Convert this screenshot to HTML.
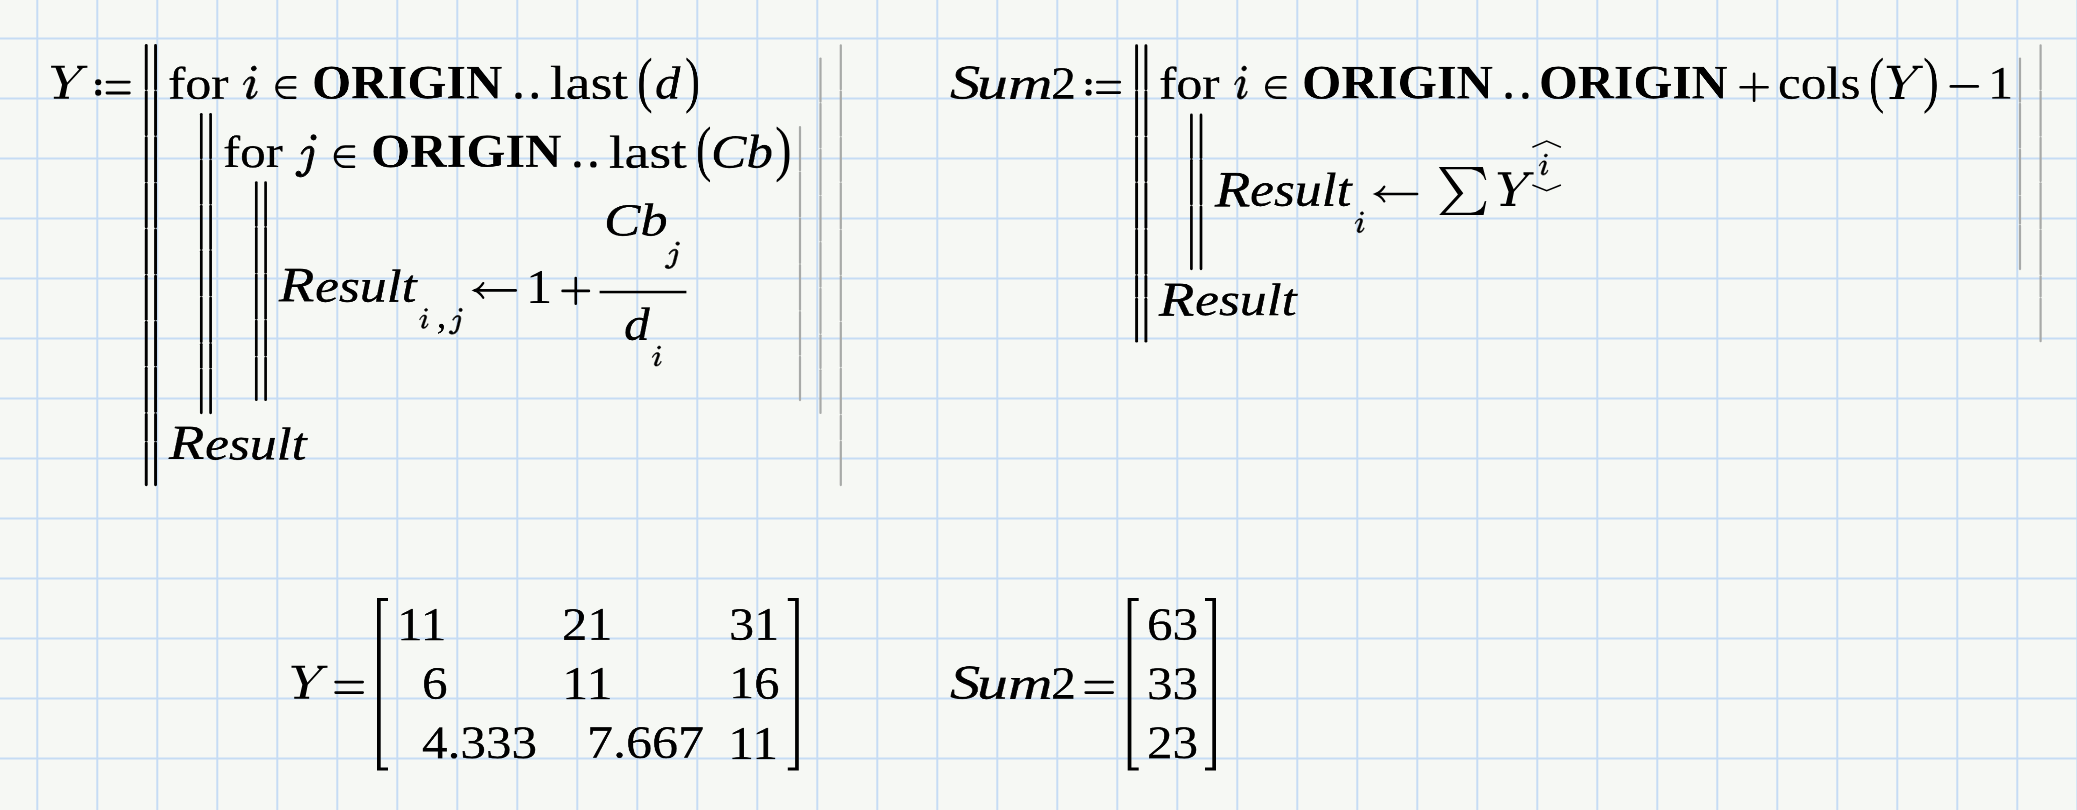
<!DOCTYPE html>
<html><head><meta charset="utf-8"><style>
html,body{margin:0;padding:0;}
body{width:2077px;height:810px;overflow:hidden;background:#f6f8f4;position:relative;}
svg{position:absolute;left:0;top:0;}
span{position:absolute;white-space:pre;transform-origin:0 0;color:#000;will-change:transform;font-family:"Liberation Serif",serif;font-size:100px;line-height:100px;}
.it{font-style:italic;font-weight:400;-webkit-text-stroke:0.8px #000;}
.bd{font-style:normal;font-weight:700;}
.rm{font-style:normal;font-weight:400;-webkit-text-stroke:0.6px #000;}
.pm{font-style:normal;font-weight:400;}
</style></head><body>
<svg width="2077" height="810" viewBox="0 0 2077 810">
<rect x="36.3" y="0" width="2" height="810" fill="#c6dcf4"/>
<rect x="96.3" y="0" width="2" height="810" fill="#c6dcf4"/>
<rect x="156.3" y="0" width="2" height="810" fill="#c6dcf4"/>
<rect x="216.3" y="0" width="2" height="810" fill="#c6dcf4"/>
<rect x="276.3" y="0" width="2" height="810" fill="#c6dcf4"/>
<rect x="336.3" y="0" width="2" height="810" fill="#c6dcf4"/>
<rect x="396.3" y="0" width="2" height="810" fill="#c6dcf4"/>
<rect x="456.3" y="0" width="2" height="810" fill="#c6dcf4"/>
<rect x="516.3" y="0" width="2" height="810" fill="#c6dcf4"/>
<rect x="576.3" y="0" width="2" height="810" fill="#c6dcf4"/>
<rect x="636.3" y="0" width="2" height="810" fill="#c6dcf4"/>
<rect x="696.3" y="0" width="2" height="810" fill="#c6dcf4"/>
<rect x="756.3" y="0" width="2" height="810" fill="#c6dcf4"/>
<rect x="816.3" y="0" width="2" height="810" fill="#c6dcf4"/>
<rect x="876.3" y="0" width="2" height="810" fill="#c6dcf4"/>
<rect x="936.3" y="0" width="2" height="810" fill="#c6dcf4"/>
<rect x="996.3" y="0" width="2" height="810" fill="#c6dcf4"/>
<rect x="1056.3" y="0" width="2" height="810" fill="#c6dcf4"/>
<rect x="1116.3" y="0" width="2" height="810" fill="#c6dcf4"/>
<rect x="1176.3" y="0" width="2" height="810" fill="#c6dcf4"/>
<rect x="1236.3" y="0" width="2" height="810" fill="#c6dcf4"/>
<rect x="1296.3" y="0" width="2" height="810" fill="#c6dcf4"/>
<rect x="1356.3" y="0" width="2" height="810" fill="#c6dcf4"/>
<rect x="1416.3" y="0" width="2" height="810" fill="#c6dcf4"/>
<rect x="1476.3" y="0" width="2" height="810" fill="#c6dcf4"/>
<rect x="1536.3" y="0" width="2" height="810" fill="#c6dcf4"/>
<rect x="1596.3" y="0" width="2" height="810" fill="#c6dcf4"/>
<rect x="1656.3" y="0" width="2" height="810" fill="#c6dcf4"/>
<rect x="1716.3" y="0" width="2" height="810" fill="#c6dcf4"/>
<rect x="1776.3" y="0" width="2" height="810" fill="#c6dcf4"/>
<rect x="1836.3" y="0" width="2" height="810" fill="#c6dcf4"/>
<rect x="1896.3" y="0" width="2" height="810" fill="#c6dcf4"/>
<rect x="1956.3" y="0" width="2" height="810" fill="#c6dcf4"/>
<rect x="2016.3" y="0" width="2" height="810" fill="#c6dcf4"/>
<rect x="2076.3" y="0" width="2" height="810" fill="#c6dcf4"/>
<rect x="0" y="37.5" width="2077" height="2" fill="#c6dcf4"/>
<rect x="0" y="97.5" width="2077" height="2" fill="#c6dcf4"/>
<rect x="0" y="157.5" width="2077" height="2" fill="#c6dcf4"/>
<rect x="0" y="217.5" width="2077" height="2" fill="#c6dcf4"/>
<rect x="0" y="277.5" width="2077" height="2" fill="#c6dcf4"/>
<rect x="0" y="337.5" width="2077" height="2" fill="#c6dcf4"/>
<rect x="0" y="397.5" width="2077" height="2" fill="#c6dcf4"/>
<rect x="0" y="457.5" width="2077" height="2" fill="#c6dcf4"/>
<rect x="0" y="517.5" width="2077" height="2" fill="#c6dcf4"/>
<rect x="0" y="577.5" width="2077" height="2" fill="#c6dcf4"/>
<rect x="0" y="637.5" width="2077" height="2" fill="#c6dcf4"/>
<rect x="0" y="697.5" width="2077" height="2" fill="#c6dcf4"/>
<rect x="0" y="757.5" width="2077" height="2" fill="#c6dcf4"/>
<line x1="146.25" y1="45.45" x2="146.25" y2="88.95" stroke="#000" stroke-width="2.9" stroke-linecap="round"/>
<line x1="146.25" y1="91.85" x2="146.25" y2="134.85" stroke="#000" stroke-width="2.9" stroke-linecap="round"/>
<line x1="146.25" y1="137.75" x2="146.25" y2="181.15" stroke="#000" stroke-width="2.9" stroke-linecap="round"/>
<line x1="146.25" y1="184.05" x2="146.25" y2="227.05" stroke="#000" stroke-width="2.9" stroke-linecap="round"/>
<line x1="146.25" y1="229.95" x2="146.25" y2="273.35" stroke="#000" stroke-width="2.9" stroke-linecap="round"/>
<line x1="146.25" y1="276.25" x2="146.25" y2="319.25" stroke="#000" stroke-width="2.9" stroke-linecap="round"/>
<line x1="146.25" y1="322.15" x2="146.25" y2="365.25" stroke="#000" stroke-width="2.9" stroke-linecap="round"/>
<line x1="146.25" y1="368.15" x2="146.25" y2="411.55" stroke="#000" stroke-width="2.9" stroke-linecap="round"/>
<line x1="146.25" y1="414.45" x2="146.25" y2="440.15" stroke="#000" stroke-width="2.9" stroke-linecap="round"/>
<line x1="146.25" y1="443.05" x2="146.25" y2="484.85" stroke="#000" stroke-width="2.9" stroke-linecap="round"/>
<line x1="155.55" y1="45.45" x2="155.55" y2="88.95" stroke="#000" stroke-width="2.9" stroke-linecap="round"/>
<line x1="155.55" y1="91.85" x2="155.55" y2="134.85" stroke="#000" stroke-width="2.9" stroke-linecap="round"/>
<line x1="155.55" y1="137.75" x2="155.55" y2="181.15" stroke="#000" stroke-width="2.9" stroke-linecap="round"/>
<line x1="155.55" y1="184.05" x2="155.55" y2="227.05" stroke="#000" stroke-width="2.9" stroke-linecap="round"/>
<line x1="155.55" y1="229.95" x2="155.55" y2="273.35" stroke="#000" stroke-width="2.9" stroke-linecap="round"/>
<line x1="155.55" y1="276.25" x2="155.55" y2="319.25" stroke="#000" stroke-width="2.9" stroke-linecap="round"/>
<line x1="155.55" y1="322.15" x2="155.55" y2="365.25" stroke="#000" stroke-width="2.9" stroke-linecap="round"/>
<line x1="155.55" y1="368.15" x2="155.55" y2="411.55" stroke="#000" stroke-width="2.9" stroke-linecap="round"/>
<line x1="155.55" y1="414.45" x2="155.55" y2="440.15" stroke="#000" stroke-width="2.9" stroke-linecap="round"/>
<line x1="155.55" y1="443.05" x2="155.55" y2="484.85" stroke="#000" stroke-width="2.9" stroke-linecap="round"/>
<line x1="201.3" y1="114.25" x2="201.3" y2="157.95" stroke="#000" stroke-width="2.7" stroke-linecap="round"/>
<line x1="201.3" y1="160.65" x2="201.3" y2="203.45" stroke="#000" stroke-width="2.7" stroke-linecap="round"/>
<line x1="201.3" y1="206.15" x2="201.3" y2="248.65" stroke="#000" stroke-width="2.7" stroke-linecap="round"/>
<line x1="201.3" y1="251.35" x2="201.3" y2="295.15" stroke="#000" stroke-width="2.7" stroke-linecap="round"/>
<line x1="201.3" y1="297.85" x2="201.3" y2="341.65" stroke="#000" stroke-width="2.7" stroke-linecap="round"/>
<line x1="201.3" y1="344.35" x2="201.3" y2="367.25" stroke="#000" stroke-width="2.7" stroke-linecap="round"/>
<line x1="201.3" y1="369.95" x2="201.3" y2="412.85" stroke="#000" stroke-width="2.7" stroke-linecap="round"/>
<line x1="210.6" y1="114.25" x2="210.6" y2="157.95" stroke="#000" stroke-width="2.7" stroke-linecap="round"/>
<line x1="210.6" y1="160.65" x2="210.6" y2="203.45" stroke="#000" stroke-width="2.7" stroke-linecap="round"/>
<line x1="210.6" y1="206.15" x2="210.6" y2="248.65" stroke="#000" stroke-width="2.7" stroke-linecap="round"/>
<line x1="210.6" y1="251.35" x2="210.6" y2="295.15" stroke="#000" stroke-width="2.7" stroke-linecap="round"/>
<line x1="210.6" y1="297.85" x2="210.6" y2="341.65" stroke="#000" stroke-width="2.7" stroke-linecap="round"/>
<line x1="210.6" y1="344.35" x2="210.6" y2="367.25" stroke="#000" stroke-width="2.7" stroke-linecap="round"/>
<line x1="210.6" y1="369.95" x2="210.6" y2="412.85" stroke="#000" stroke-width="2.7" stroke-linecap="round"/>
<line x1="256.3" y1="182.55" x2="256.3" y2="225.55" stroke="#000" stroke-width="2.7" stroke-linecap="round"/>
<line x1="256.3" y1="228.25" x2="256.3" y2="272.15" stroke="#000" stroke-width="2.7" stroke-linecap="round"/>
<line x1="256.3" y1="274.85" x2="256.3" y2="318.25" stroke="#000" stroke-width="2.7" stroke-linecap="round"/>
<line x1="256.3" y1="320.95" x2="256.3" y2="355.35" stroke="#000" stroke-width="2.7" stroke-linecap="round"/>
<line x1="256.3" y1="358.05" x2="256.3" y2="399.65" stroke="#000" stroke-width="2.7" stroke-linecap="round"/>
<line x1="265.6" y1="182.55" x2="265.6" y2="225.55" stroke="#000" stroke-width="2.7" stroke-linecap="round"/>
<line x1="265.6" y1="228.25" x2="265.6" y2="272.15" stroke="#000" stroke-width="2.7" stroke-linecap="round"/>
<line x1="265.6" y1="274.85" x2="265.6" y2="318.25" stroke="#000" stroke-width="2.7" stroke-linecap="round"/>
<line x1="265.6" y1="320.95" x2="265.6" y2="355.35" stroke="#000" stroke-width="2.7" stroke-linecap="round"/>
<line x1="265.6" y1="358.05" x2="265.6" y2="399.65" stroke="#000" stroke-width="2.7" stroke-linecap="round"/>
<line x1="1136.6" y1="45.75" x2="1136.6" y2="88.95" stroke="#000" stroke-width="2.9" stroke-linecap="round"/>
<line x1="1136.6" y1="91.85" x2="1136.6" y2="134.95" stroke="#000" stroke-width="2.9" stroke-linecap="round"/>
<line x1="1136.6" y1="137.85" x2="1136.6" y2="180.75" stroke="#000" stroke-width="2.9" stroke-linecap="round"/>
<line x1="1136.6" y1="183.65" x2="1136.6" y2="227.55" stroke="#000" stroke-width="2.9" stroke-linecap="round"/>
<line x1="1136.6" y1="230.45" x2="1136.6" y2="273.55" stroke="#000" stroke-width="2.9" stroke-linecap="round"/>
<line x1="1136.6" y1="276.45" x2="1136.6" y2="296.25" stroke="#000" stroke-width="2.9" stroke-linecap="round"/>
<line x1="1136.6" y1="299.15" x2="1136.6" y2="341.15" stroke="#000" stroke-width="2.9" stroke-linecap="round"/>
<line x1="1145.9" y1="45.75" x2="1145.9" y2="88.95" stroke="#000" stroke-width="2.9" stroke-linecap="round"/>
<line x1="1145.9" y1="91.85" x2="1145.9" y2="134.95" stroke="#000" stroke-width="2.9" stroke-linecap="round"/>
<line x1="1145.9" y1="137.85" x2="1145.9" y2="180.75" stroke="#000" stroke-width="2.9" stroke-linecap="round"/>
<line x1="1145.9" y1="183.65" x2="1145.9" y2="227.55" stroke="#000" stroke-width="2.9" stroke-linecap="round"/>
<line x1="1145.9" y1="230.45" x2="1145.9" y2="273.55" stroke="#000" stroke-width="2.9" stroke-linecap="round"/>
<line x1="1145.9" y1="276.45" x2="1145.9" y2="296.25" stroke="#000" stroke-width="2.9" stroke-linecap="round"/>
<line x1="1145.9" y1="299.15" x2="1145.9" y2="341.15" stroke="#000" stroke-width="2.9" stroke-linecap="round"/>
<line x1="1191.4" y1="114.95" x2="1191.4" y2="157.65" stroke="#000" stroke-width="2.7" stroke-linecap="round"/>
<line x1="1191.4" y1="160.35" x2="1191.4" y2="204.05" stroke="#000" stroke-width="2.7" stroke-linecap="round"/>
<line x1="1191.4" y1="206.75" x2="1191.4" y2="268.85" stroke="#000" stroke-width="2.7" stroke-linecap="round"/>
<line x1="1201.0" y1="114.95" x2="1201.0" y2="157.65" stroke="#000" stroke-width="2.7" stroke-linecap="round"/>
<line x1="1201.0" y1="160.35" x2="1201.0" y2="204.05" stroke="#000" stroke-width="2.7" stroke-linecap="round"/>
<line x1="1201.0" y1="206.75" x2="1201.0" y2="268.85" stroke="#000" stroke-width="2.7" stroke-linecap="round"/>
<line x1="800" y1="127.10" x2="800" y2="170.30" stroke="#a8aaa8" stroke-width="2.2" stroke-linecap="round"/>
<line x1="800" y1="172.50" x2="800" y2="216.40" stroke="#a8aaa8" stroke-width="2.2" stroke-linecap="round"/>
<line x1="800" y1="218.60" x2="800" y2="262.90" stroke="#a8aaa8" stroke-width="2.2" stroke-linecap="round"/>
<line x1="800" y1="265.10" x2="800" y2="309.80" stroke="#a8aaa8" stroke-width="2.2" stroke-linecap="round"/>
<line x1="800" y1="312.00" x2="800" y2="354.70" stroke="#a8aaa8" stroke-width="2.2" stroke-linecap="round"/>
<line x1="800" y1="356.90" x2="800" y2="400.10" stroke="#a8aaa8" stroke-width="2.2" stroke-linecap="round"/>
<line x1="820.5" y1="58.50" x2="820.5" y2="101.70" stroke="#a8aaa8" stroke-width="2.2" stroke-linecap="round"/>
<line x1="820.5" y1="103.90" x2="820.5" y2="147.50" stroke="#a8aaa8" stroke-width="2.2" stroke-linecap="round"/>
<line x1="820.5" y1="149.70" x2="820.5" y2="194.40" stroke="#a8aaa8" stroke-width="2.2" stroke-linecap="round"/>
<line x1="820.5" y1="196.60" x2="820.5" y2="240.70" stroke="#a8aaa8" stroke-width="2.2" stroke-linecap="round"/>
<line x1="820.5" y1="242.90" x2="820.5" y2="286.70" stroke="#a8aaa8" stroke-width="2.2" stroke-linecap="round"/>
<line x1="820.5" y1="288.90" x2="820.5" y2="333.10" stroke="#a8aaa8" stroke-width="2.2" stroke-linecap="round"/>
<line x1="820.5" y1="335.30" x2="820.5" y2="368.10" stroke="#a8aaa8" stroke-width="2.2" stroke-linecap="round"/>
<line x1="820.5" y1="370.30" x2="820.5" y2="412.90" stroke="#a8aaa8" stroke-width="2.2" stroke-linecap="round"/>
<line x1="840.8" y1="45.40" x2="840.8" y2="89.30" stroke="#a8aaa8" stroke-width="2.2" stroke-linecap="round"/>
<line x1="840.8" y1="91.50" x2="840.8" y2="135.70" stroke="#a8aaa8" stroke-width="2.2" stroke-linecap="round"/>
<line x1="840.8" y1="137.90" x2="840.8" y2="181.10" stroke="#a8aaa8" stroke-width="2.2" stroke-linecap="round"/>
<line x1="840.8" y1="183.30" x2="840.8" y2="228.40" stroke="#a8aaa8" stroke-width="2.2" stroke-linecap="round"/>
<line x1="840.8" y1="230.60" x2="840.8" y2="274.20" stroke="#a8aaa8" stroke-width="2.2" stroke-linecap="round"/>
<line x1="840.8" y1="276.40" x2="840.8" y2="320.30" stroke="#a8aaa8" stroke-width="2.2" stroke-linecap="round"/>
<line x1="840.8" y1="322.50" x2="840.8" y2="366.60" stroke="#a8aaa8" stroke-width="2.2" stroke-linecap="round"/>
<line x1="840.8" y1="368.80" x2="840.8" y2="413.60" stroke="#a8aaa8" stroke-width="2.2" stroke-linecap="round"/>
<line x1="840.8" y1="415.80" x2="840.8" y2="439.60" stroke="#a8aaa8" stroke-width="2.2" stroke-linecap="round"/>
<line x1="840.8" y1="441.80" x2="840.8" y2="485.10" stroke="#a8aaa8" stroke-width="2.2" stroke-linecap="round"/>
<line x1="2020" y1="58.50" x2="2020" y2="101.70" stroke="#a8aaa8" stroke-width="2.2" stroke-linecap="round"/>
<line x1="2020" y1="103.90" x2="2020" y2="147.50" stroke="#a8aaa8" stroke-width="2.2" stroke-linecap="round"/>
<line x1="2020" y1="149.70" x2="2020" y2="194.40" stroke="#a8aaa8" stroke-width="2.2" stroke-linecap="round"/>
<line x1="2020" y1="196.60" x2="2020" y2="223.50" stroke="#a8aaa8" stroke-width="2.2" stroke-linecap="round"/>
<line x1="2020" y1="225.70" x2="2020" y2="269.10" stroke="#a8aaa8" stroke-width="2.2" stroke-linecap="round"/>
<line x1="2040.6" y1="45.40" x2="2040.6" y2="89.30" stroke="#a8aaa8" stroke-width="2.2" stroke-linecap="round"/>
<line x1="2040.6" y1="91.50" x2="2040.6" y2="135.70" stroke="#a8aaa8" stroke-width="2.2" stroke-linecap="round"/>
<line x1="2040.6" y1="137.90" x2="2040.6" y2="181.10" stroke="#a8aaa8" stroke-width="2.2" stroke-linecap="round"/>
<line x1="2040.6" y1="183.30" x2="2040.6" y2="228.40" stroke="#a8aaa8" stroke-width="2.2" stroke-linecap="round"/>
<line x1="2040.6" y1="230.60" x2="2040.6" y2="274.20" stroke="#a8aaa8" stroke-width="2.2" stroke-linecap="round"/>
<line x1="2040.6" y1="276.40" x2="2040.6" y2="296.60" stroke="#a8aaa8" stroke-width="2.2" stroke-linecap="round"/>
<line x1="2040.6" y1="298.80" x2="2040.6" y2="341.20" stroke="#a8aaa8" stroke-width="2.2" stroke-linecap="round"/>
<path d="M295.20 77.40H286.65A10.15 10.15 0 0 0 286.65 97.70H295.20M276.50 87.55H295.20" fill="none" stroke="#000" stroke-width="2.6" stroke-linecap="round"/>
<path d="M354.00 146.50H345.15A10.15 10.15 0 0 0 345.15 166.80H354.00M335.00 156.65H354.00" fill="none" stroke="#000" stroke-width="2.6" stroke-linecap="round"/>
<path d="M1285.40 77.40H1276.45A10.15 10.15 0 0 0 1276.45 97.70H1285.40M1266.30 87.55H1285.40" fill="none" stroke="#000" stroke-width="2.6" stroke-linecap="round"/>
<circle cx="518.5" cy="95.7" r="3.2" fill="#000"/><circle cx="534.8" cy="95.7" r="3.2" fill="#000"/>
<circle cx="577.4" cy="164.4" r="3.2" fill="#000"/><circle cx="593.4" cy="164.4" r="3.2" fill="#000"/>
<circle cx="1508.6" cy="95.7" r="3.2" fill="#000"/><circle cx="1525.4" cy="95.7" r="3.2" fill="#000"/>
<path d="M515.70 290.4H474.90" stroke="#000" stroke-width="2.6" stroke-linecap="round" fill="none"/>
<path d="M483.20 283.10Q479.90 288.40 474.70 290.40Q479.90 292.40 483.20 297.70" stroke="#000" stroke-width="2.3" stroke-linecap="round" fill="none"/>
<path d="M1417.10 194H1376.00" stroke="#000" stroke-width="2.6" stroke-linecap="round" fill="none"/>
<path d="M1384.30 186.70Q1381.00 192.00 1375.80 194.00Q1381.00 196.00 1384.30 201.30" stroke="#000" stroke-width="2.3" stroke-linecap="round" fill="none"/>
<rect x="599.6" y="290.8" width="86.8" height="2.5" fill="#000"/>
<path d="M1950.8 86.4H1977.8" stroke="#000" stroke-width="2.6" stroke-linecap="round"/>
<path transform="translate(1430,160) scale(0.07656967840735068)" d="M115 92L690 92L735 260L720 262Q690 150 540 122L200 122L435 435L200 688L530 688Q690 680 715 540L735 535L700 718L120 718L365 450Z" fill="#000"/>
<path d="M1532.4 147.2L1546.7 141.1L1560.9 147.2M1532.4 185L1546.7 190.6L1560.9 185" fill="none" stroke="#000" stroke-width="1.5"/>
<path d="M377.0 598H388.0V601.1H380.7V767.5H388.0V770.6H377.0Z" fill="#000"/>
<path d="M798.8 598H787.8V601.1H795.0999999999999V767.5H787.8V770.6H798.8Z" fill="#000"/>
<path d="M1127.7 598H1138.7V601.1H1131.4V767.5H1138.7V770.6H1127.7Z" fill="#000"/>
<path d="M1216.0 598H1205.0V601.1H1212.3V767.5H1205.0V770.6H1216.0Z" fill="#000"/>
<g transform="translate(243.00 66.00) scale(0.04982 0.04932) translate(-105 -80)" fill="#000" stroke="#000" stroke-width="16" stroke-linejoin="round"><path d="M110 455C150 360 215 295 275 298C345 300 350 360 335 405L258 640C245 690 255 705 275 700C320 690 355 640 372 590L392 598C370 670 320 748 245 748C185 748 165 700 180 650L260 420C272 385 275 335 255 335C215 335 160 385 130 462Z"/><ellipse cx="322" cy="130" rx="50" ry="45" transform="rotate(-25 322 130)"/></g>
<g transform="translate(419.30 308.40) scale(0.03123 0.02992) translate(-105 -80)" fill="#000" stroke="#000" stroke-width="16" stroke-linejoin="round"><path d="M110 455C150 360 215 295 275 298C345 300 350 360 335 405L258 640C245 690 255 705 275 700C320 690 355 640 372 590L392 598C370 670 320 748 245 748C185 748 165 700 180 650L260 420C272 385 275 335 255 335C215 335 160 385 130 462Z"/><ellipse cx="322" cy="130" rx="50" ry="45" transform="rotate(-25 322 130)"/></g>
<g transform="translate(652.00 346.00) scale(0.03263 0.03008) translate(-105 -80)" fill="#000" stroke="#000" stroke-width="16" stroke-linejoin="round"><path d="M110 455C150 360 215 295 275 298C345 300 350 360 335 405L258 640C245 690 255 705 275 700C320 690 355 640 372 590L392 598C370 670 320 748 245 748C185 748 165 700 180 650L260 420C272 385 275 335 255 335C215 335 160 385 130 462Z"/><ellipse cx="322" cy="130" rx="50" ry="45" transform="rotate(-25 322 130)"/></g>
<g transform="translate(1234.30 66.00) scale(0.04526 0.04932) translate(-105 -80)" fill="#000" stroke="#000" stroke-width="16" stroke-linejoin="round"><path d="M110 455C150 360 215 295 275 298C345 300 350 360 335 405L258 640C245 690 255 705 275 700C320 690 355 640 372 590L392 598C370 670 320 748 245 748C185 748 165 700 180 650L260 420C272 385 275 335 255 335C215 335 160 385 130 462Z"/><ellipse cx="322" cy="130" rx="50" ry="45" transform="rotate(-25 322 130)"/></g>
<g transform="translate(1354.80 211.80) scale(0.03298 0.03128) translate(-105 -80)" fill="#000" stroke="#000" stroke-width="16" stroke-linejoin="round"><path d="M110 455C150 360 215 295 275 298C345 300 350 360 335 405L258 640C245 690 255 705 275 700C320 690 355 640 372 590L392 598C370 670 320 748 245 748C185 748 165 700 180 650L260 420C272 385 275 335 255 335C215 335 160 385 130 462Z"/><ellipse cx="322" cy="130" rx="50" ry="45" transform="rotate(-25 322 130)"/></g>
<g transform="translate(1538.90 153.90) scale(0.03193 0.03173) translate(-105 -80)" fill="#000" stroke="#000" stroke-width="16" stroke-linejoin="round"><path d="M110 455C150 360 215 295 275 298C345 300 350 360 335 405L258 640C245 690 255 705 275 700C320 690 355 640 372 590L392 598C370 670 320 748 245 748C185 748 165 700 180 650L260 420C272 385 275 335 255 335C215 335 160 385 130 462Z"/><ellipse cx="322" cy="130" rx="50" ry="45" transform="rotate(-25 322 130)"/></g>
<g transform="translate(296.00 134.90) scale(0.06098 0.06158) translate(-62 -80)" fill="#000" stroke="#000" stroke-width="16" stroke-linejoin="round"><path d="M145 385C180 300 240 262 290 265C350 268 365 320 350 390L300 600C270 720 200 762 120 762L120 728C190 728 225 690 245 600L295 380C303 340 310 298 285 298C245 298 195 330 165 395Z"/><circle cx="350" cy="120" r="42"/><circle cx="103" cy="712" r="42"/></g>
<g transform="translate(449.30 308.40) scale(0.03933 0.03783) translate(-62 -80)" fill="#000" stroke="#000" stroke-width="16" stroke-linejoin="round"><path d="M145 385C180 300 240 262 290 265C350 268 365 320 350 390L300 600C270 720 200 762 120 762L120 728C190 728 225 690 245 600L295 380C303 340 310 298 285 298C245 298 195 330 165 395Z"/><circle cx="350" cy="120" r="42"/><circle cx="103" cy="712" r="42"/></g>
<g transform="translate(665.30 242.00) scale(0.04299 0.03900) translate(-62 -80)" fill="#000" stroke="#000" stroke-width="16" stroke-linejoin="round"><path d="M145 385C180 300 240 262 290 265C350 268 365 320 350 390L300 600C270 720 200 762 120 762L120 728C190 728 225 690 245 600L295 380C303 340 310 298 285 298C245 298 195 330 165 395Z"/><circle cx="350" cy="120" r="42"/><circle cx="103" cy="712" r="42"/></g>
<g transform="translate(51.10 65.60) scale(0.06849 0.06816) translate(-95 -158)" fill="#000" stroke="#000" stroke-width="0" stroke-linejoin="round"><path d="M95 160L295 160L295 190L240 190L330 405L505 210L475 190L475 160L625 160L625 190L560 192L335 440L300 615L355 615L355 645L135 645L135 615L215 615L255 440L160 190L95 190Z"/></g>
<g transform="translate(1886.80 65.70) scale(0.06792 0.06857) translate(-95 -158)" fill="#000" stroke="#000" stroke-width="0" stroke-linejoin="round"><path d="M95 160L295 160L295 190L240 190L330 405L505 210L475 190L475 160L625 160L625 190L560 192L335 440L300 615L355 615L355 645L135 645L135 615L215 615L255 440L160 190L95 190Z"/></g>
<g transform="translate(1497.80 172.20) scale(0.06755 0.06918) translate(-95 -158)" fill="#000" stroke="#000" stroke-width="0" stroke-linejoin="round"><path d="M95 160L295 160L295 190L240 190L330 405L505 210L475 190L475 160L625 160L625 190L560 192L335 440L300 615L355 615L355 645L135 645L135 615L215 615L255 440L160 190L95 190Z"/></g>
<g transform="translate(291.50 665.70) scale(0.06792 0.06796) translate(-95 -158)" fill="#000" stroke="#000" stroke-width="0" stroke-linejoin="round"><path d="M95 160L295 160L295 190L240 190L330 405L505 210L475 190L475 160L625 160L625 190L560 192L335 440L300 615L355 615L355 645L135 645L135 615L215 615L255 440L160 190L95 190Z"/></g>
<circle cx="98.2" cy="82.25" r="3.05" fill="#000"/><circle cx="98.2" cy="92.65" r="3.05" fill="#000"/>
<circle cx="1088.6" cy="81.85" r="3.05" fill="#000"/><circle cx="1088.6" cy="92.65" r="3.05" fill="#000"/>
<path d="M107.00 82.10H129.30M107.00 93.00H129.30" stroke="#000" stroke-width="2.8" stroke-linecap="round" fill="none"/>
<path d="M1097.40 82.20H1119.70M1097.40 92.60H1119.70" stroke="#000" stroke-width="2.8" stroke-linecap="round" fill="none"/>
<path d="M335.70 682.10H362.60M335.70 692.60H362.60" stroke="#000" stroke-width="2.8" stroke-linecap="round" fill="none"/>
<path d="M1085.80 682.10H1112.60M1085.80 692.60H1112.60" stroke="#000" stroke-width="2.8" stroke-linecap="round" fill="none"/>
<path d="M562.60 290.90H588.90M575.75 278.10V303.70" stroke="#000" stroke-width="2.6" stroke-linecap="round" fill="none"/>
<path d="M1740.60 87.30H1767.60M1754.10 73.80V100.80" stroke="#000" stroke-width="2.6" stroke-linecap="round" fill="none"/>
</svg>
<span class="rm" style="left:168.34px;top:61.03px;transform:scale(0.5204,0.4556)">for</span>
<span class="bd" style="left:312.48px;top:57.80px;transform:scale(0.5040,0.4836)">ORIGIN</span>
<span class="rm" style="left:549.88px;top:59.30px;transform:scale(0.5613,0.4786)">last</span>
<span class="pm" style="left:637.09px;top:49.42px;transform:scale(0.4769,0.6200)">(</span>
<span class="it" style="left:655.18px;top:59.92px;transform:scale(0.5062,0.4629)">d</span>
<span class="pm" style="left:684.65px;top:49.42px;transform:scale(0.4500,0.6200)">)</span>
<span class="rm" style="left:223.46px;top:130.33px;transform:scale(0.5133,0.4472)">for</span>
<span class="bd" style="left:371.28px;top:127.40px;transform:scale(0.5043,0.4776)">ORIGIN</span>
<span class="rm" style="left:608.68px;top:128.88px;transform:scale(0.5591,0.4657)">last</span>
<span class="pm" style="left:696.15px;top:118.05px;transform:scale(0.4615,0.6178)">(</span>
<span class="it" style="left:711.15px;top:128.04px;transform:scale(0.5303,0.4757)">Cb</span>
<span class="pm" style="left:775.20px;top:118.05px;transform:scale(0.5000,0.6178)">)</span>
<span class="it" style="left:278.88px;top:260.21px;transform:scale(0.5787,0.4939)">R</span>
<span class="it" style="left:314.59px;top:262.58px;transform:scale(0.5378,0.4657)">esult</span>
<span class="rm" style="left:436.51px;top:295.80px;transform:scale(0.3625,0.3808)">,</span>
<span class="rm" style="left:526.22px;top:262.86px;transform:scale(0.5222,0.4788)">1</span>
<span class="it" style="left:603.88px;top:196.72px;transform:scale(0.5450,0.4629)">Cb</span>
<span class="it" style="left:623.86px;top:300.76px;transform:scale(0.5125,0.4671)">d</span>
<span class="it" style="left:169.08px;top:418.26px;transform:scale(0.5787,0.4909)">R</span>
<span class="it" style="left:204.79px;top:420.62px;transform:scale(0.5378,0.4629)">esult</span>
<span class="it" style="left:949.90px;top:58.20px;transform:scale(0.6021,0.4824)">S</span>
<span class="it" style="left:977.01px;top:61.05px;transform:scale(0.6186,0.4542)">um</span>
<span class="rm" style="left:1050.90px;top:60.23px;transform:scale(0.5000,0.4627)">2</span>
<span class="rm" style="left:1158.94px;top:61.03px;transform:scale(0.5204,0.4556)">for</span>
<span class="bd" style="left:1302.47px;top:57.80px;transform:scale(0.5057,0.4836)">ORIGIN</span>
<span class="bd" style="left:1538.80px;top:57.80px;transform:scale(0.4992,0.4836)">ORIGIN</span>
<span class="rm" style="left:1777.87px;top:59.90px;transform:scale(0.5116,0.4643)">cols</span>
<span class="pm" style="left:1868.58px;top:49.40px;transform:scale(0.4538,0.6211)">(</span>
<span class="pm" style="left:1923.28px;top:49.40px;transform:scale(0.4731,0.6211)">)</span>
<span class="rm" style="left:1987.58px;top:59.82px;transform:scale(0.5028,0.4636)">1</span>
<span class="it" style="left:1214.58px;top:163.56px;transform:scale(0.5787,0.5076)">R</span>
<span class="it" style="left:1250.29px;top:166.00px;transform:scale(0.5378,0.4786)">esult</span>
<span class="it" style="left:1159.28px;top:275.15px;transform:scale(0.5787,0.4864)">R</span>
<span class="it" style="left:1194.99px;top:277.48px;transform:scale(0.5378,0.4586)">esult</span>
<span class="rm" style="left:396.69px;top:600.96px;transform:scale(0.5133,0.4727)">11</span>
<span class="rm" style="left:562.18px;top:601.08px;transform:scale(0.5044,0.4657)">21</span>
<span class="rm" style="left:728.59px;top:601.08px;transform:scale(0.5022,0.4657)">31</span>
<span class="rm" style="left:421.55px;top:660.28px;transform:scale(0.5116,0.4603)">6</span>
<span class="rm" style="left:561.69px;top:660.49px;transform:scale(0.5265,0.4712)">11</span>
<span class="rm" style="left:728.56px;top:660.28px;transform:scale(0.5045,0.4603)">16</span>
<span class="rm" style="left:421.88px;top:718.51px;transform:scale(0.5114,0.4701)">4.333</span>
<span class="rm" style="left:587.48px;top:718.62px;transform:scale(0.5204,0.4632)">7.667</span>
<span class="rm" style="left:728.44px;top:719.52px;transform:scale(0.5205,0.4697)">11</span>
<span class="it" style="left:949.90px;top:658.20px;transform:scale(0.6021,0.4824)">S</span>
<span class="it" style="left:977.01px;top:661.05px;transform:scale(0.6186,0.4542)">um</span>
<span class="rm" style="left:1050.90px;top:660.23px;transform:scale(0.5000,0.4627)">2</span>
<span class="rm" style="left:1146.56px;top:600.62px;transform:scale(0.5109,0.4632)">63</span>
<span class="rm" style="left:1146.56px;top:660.01px;transform:scale(0.5109,0.4701)">33</span>
<span class="rm" style="left:1146.56px;top:718.51px;transform:scale(0.5109,0.4701)">23</span>
</body></html>
